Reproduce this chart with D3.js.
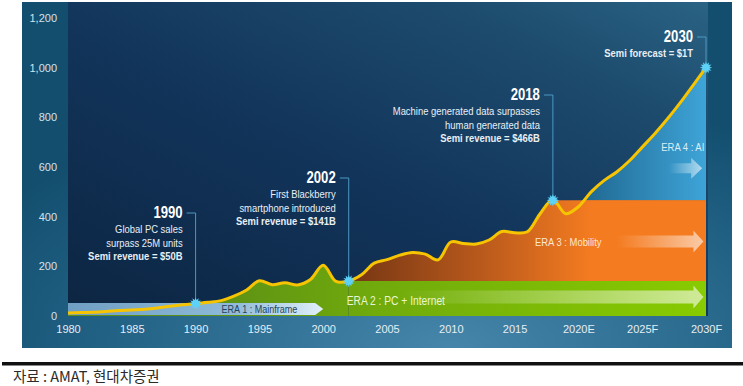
<!DOCTYPE html>
<html>
<head>
<meta charset="utf-8">
<script src="https://cdn.jsdelivr.net/npm/d3@7"></script>
<style>
  body { margin: 0; background: #fff; }
  svg { display: block; font-family: "Liberation Sans", Arial, sans-serif; }
</style>
</head>
<body>
<div id="chart"></div>
<script>
// semiconductor revenue, $B
const years = d3.range(1980, 2031);
const revenue = [
  12, 14, 15, 18, 22, 24, 27, 32, 39, 45,
  50, 55, 62, 80, 105, 142, 126, 134, 125, 147,
  204, 139, 141, 166, 213, 227, 245, 256, 249, 226,
  298, 292, 290, 306, 340, 335, 339, 412, 468, 412,
  440, 500, 545, 580, 625, 680, 735, 795, 860, 930,
  1000
];

const yTicks = [0, 200, 400, 600, 800, 1000, 1200];
const xTicks = [1980, 1985, 1990, 1995, 2000, 2005, 2010, 2015, 2020, 2025, 2030];
const xTickLabels = ["1980", "1985", "1990", "1995", "2000", "2005", "2010", "2015", "2020E", "2025F", "2030F"];

const eraNames = ["ERA 1 : Mainframe", "ERA 2 : PC + Internet", "ERA 3 : Mobility", "ERA 4 : AI"];
const eraStart = [1980, 1980, 2002, 2018];
const eraEnd   = [2000, 2030, 2030, 2030];
const eraFloor = [0, 0, 141, 466];
const eraCeil  = [52, 141, 466, 1200];

const noteYears  = [1990, 2002, 2018, 2030];
const noteValues = [50, 141, 466, 1000];
const noteLines  = [
  ["Global PC sales", "surpass 25M units"],
  ["First Blackberry", "smartphone introduced"],
  ["Machine generated data surpasses", "human generated data"],
  []
];
const noteBold = ["Semi revenue = $50B", "Semi revenue = $141B", "Semi revenue = $466B", "Semi forecast = $1T"];

const source = "자료 : AMAT, 현대차증권";

// ---- layout
const W = 743, H = 386;
const panel = { x0: 22, x1: 732, y0: 2, y1: 348 };
const plot  = { x0: 68, x1: 708, y0: 2, y1: 316 };
const narrow = 0.82;   // the original uses a condensed face

const x = d3.scaleLinear().domain([1980, 2030]).range([68, 706]);
const y = d3.scaleLinear().domain([0, 1200]).range([316, 18]);

const svg = d3.select("#chart").append("svg")
  .attr("width", W).attr("height", H);

const defs = svg.append("defs");

function linGrad(id, x1, y1, x2, y2, stops, user) {
  const g = defs.append("linearGradient").attr("id", id)
    .attr("x1", x1).attr("y1", y1).attr("x2", x2).attr("y2", y2);
  if (user) g.attr("gradientUnits", "userSpaceOnUse");
  stops.forEach(([o, c, op]) => g.append("stop").attr("offset", o)
    .attr("stop-color", c).attr("stop-opacity", op == null ? 1 : op));
}

// backgrounds
const pg = defs.append("radialGradient").attr("id", "panelG")
  .attr("cx", "60%").attr("cy", "100%").attr("r", "75%");
pg.append("stop").attr("offset", 0).attr("stop-color", "#4686ab");
pg.append("stop").attr("offset", 0.6).attr("stop-color", "#236487");
pg.append("stop").attr("offset", 1).attr("stop-color", "#134e6e");

linGrad("plotG", "0%", "100%", "100%", "0%", [
  [0, "#0c2542"], [0.45, "#12345a"], [0.8, "#1d4c6e"], [1, "#2a6384"]
]);
linGrad("greenG", x(1990), 0, x(2030), 0, [
  [0, "#5a8e16"], [0.35, "#70aa0c"], [1, "#88cb00"]
], true);
linGrad("orangeG", x(2003), 0, x(2021), 0, [
  [0, "#7c3914"], [0.5, "#b6581c"], [1, "#f47b20"]
], true);
linGrad("blueG", x(2018), 0, x(2030), 0, [
  [0, "#18597f"], [1, "#3ea4d8"]
], true);
linGrad("era1G", x(1980), 0, x(2000), 0, [
  [0, "#6f9fc3"], [0.65, "#8fbad8"], [1, "#e2f0f9"]
], true);
linGrad("arrowG", "0%", 0, "100%", 0, [
  [0, "#ffffff", 0], [1, "#ffffff", 0.6]
]);

svg.append("rect")
  .attr("x", panel.x0).attr("y", panel.y0)
  .attr("width", panel.x1 - panel.x0).attr("height", panel.y1 - panel.y0)
  .attr("fill", "url(#panelG)");
svg.append("rect")
  .attr("x", plot.x0).attr("y", plot.y0)
  .attr("width", plot.x1 - plot.x0).attr("height", plot.y1 - plot.y0)
  .attr("fill", "url(#plotG)");

// ---- area under the curve
const series = years.map((yr, i) => ({ year: yr, value: revenue[i] }));
const curve = d3.curveCatmullRom.alpha(0.5);

const area = d3.area().curve(curve)
  .x(d => x(d.year)).y0(y(0)).y1(d => y(d.value));
const line = d3.line().curve(curve)
  .x(d => x(d.year)).y(d => y(d.value));

defs.append("clipPath").attr("id", "under")
  .append("path").attr("d", area(series));

const fills = ["url(#era1G)", "url(#greenG)", "url(#orangeG)", "url(#blueG)"];

// each era fills the space under the curve from its start year
const under = svg.append("g").attr("clip-path", "url(#under)");
under.append("rect")
  .attr("x", x(1980)).attr("y", y(1200))
  .attr("width", x(2002) - x(1980)).attr("height", y(0) - y(1200))
  .attr("fill", fills[1]);
[2, 3].forEach(i => {
  under.append("rect")
    .attr("x", x(eraStart[i])).attr("y", y(eraCeil[i]))
    .attr("width", x(eraEnd[i]) - x(eraStart[i]))
    .attr("height", y(eraFloor[i]) - y(eraCeil[i]))
    .attr("fill", fills[i]);
});

// green and orange continue as flat bands to 2030
svg.append("rect")
  .attr("x", x(2002)).attr("y", y(eraCeil[1]))
  .attr("width", x(2030) - x(2002)).attr("height", y(0) - y(eraCeil[1]))
  .attr("fill", fills[1]);
svg.append("rect")
  .attr("x", x(2018)).attr("y", y(eraCeil[2]))
  .attr("width", x(2030) - x(2018)).attr("height", y(eraFloor[2]) - y(eraCeil[2]))
  .attr("fill", fills[2]);

// arrows
function arrow(x0, x1, yc, body, head, hw) {
  const p = d3.path();
  p.moveTo(x0, yc - body / 2);
  p.lineTo(x1 - hw, yc - body / 2);
  p.lineTo(x1 - hw, yc - head / 2);
  p.lineTo(x1, yc);
  p.lineTo(x1 - hw, yc + head / 2);
  p.lineTo(x1 - hw, yc + body / 2);
  p.lineTo(x0, yc + body / 2);
  p.closePath();
  return p.toString();
}

// ERA 1 band
const e1top = y(eraCeil[0]), e1bot = y(0) - 1;
svg.append("path")
  .attr("d", arrow(x(1980), x(2000), (e1top + e1bot) / 2, e1bot - e1top, e1bot - e1top, 8))
  .attr("fill", fills[0]);

svg.append("path")
  .attr("d", arrow(x(2006), x(2029.8), 297, 13, 23, 10))
  .attr("fill", "url(#arrowG)");
svg.append("path")
  .attr("d", arrow(x(2023), x(2029.8), y(300), 12, 22, 10))
  .attr("fill", "url(#arrowG)");
svg.append("path")
  .attr("d", arrow(x(2027.1), x(2029.7), y(595), 10, 21, 11))
  .attr("fill", "url(#arrowG)");

// era labels
const eraLabelX = [x(1995), x(2002) - 2, x(2016.6), x(2026.5)];
const eraLabelY = [(e1top + e1bot) / 2, 301, 242, 147];
const eraColors = ["#24425f", "#eaf6d2", "#ffe6d0", "#dcedf8"];
const eraSizes  = [11, 12.5, 11.5, 11.5];
svg.selectAll("g.era").data(eraNames).join("g")
  .attr("class", "era")
  .attr("transform", (d, i) => `translate(${eraLabelX[i]},${eraLabelY[i]}) scale(${narrow},1)`)
  .append("text")
  .attr("dy", "0.35em")
  .attr("text-anchor", (d, i) => i === 0 ? "middle" : "start")
  .attr("font-size", (d, i) => eraSizes[i])
  .attr("fill", (d, i) => eraColors[i])
  .text(d => d);

// the curve
svg.append("path")
  .attr("d", line(series))
  .attr("fill", "none")
  .attr("stroke", "#f6c400")
  .attr("stroke-width", 3)
  .attr("stroke-linejoin", "round");

// ---- annotations
const titleY = [218, 183, 100, 42];
const ann = svg.append("g");
noteYears.forEach((yr, i) => {
  const px = x(yr), py = y(noteValues[i]);
  const tx = px - 13, ty = titleY[i];
  ann.append("path")
    .attr("d", `M${px - 9},${ty - 5}H${px}V${py}`)
    .attr("fill", "none").attr("stroke", "#4c98c2").attr("stroke-width", 1);
  const g = ann.append("g").attr("transform", `translate(${tx},${ty}) scale(${narrow},1)`);
  g.append("text")
    .attr("text-anchor", "end").attr("font-size", 16).attr("font-weight", "bold")
    .attr("fill", "#ffffff").text(yr);
  const lines = noteLines[i].concat([noteBold[i]]);
  lines.forEach((s, j) => {
    g.append("text")
      .attr("y", 15.5 + j * 13.5)
      .attr("text-anchor", "end").attr("font-size", 11.5)
      .attr("font-weight", j === lines.length - 1 ? "bold" : "normal")
      .attr("fill", "#e8eff5").text(s);
  });
  // star burst
  const pts = d3.range(24).map(k => {
    const a = k * Math.PI / 12, r = k % 2 ? 3.6 : 6.2;
    return [px + r * Math.sin(a), py - r * Math.cos(a)];
  });
  ann.append("path").attr("d", "M" + pts.join("L") + "Z").attr("fill", "#5ed2f6");
});

// ---- axes
const yAxis = svg.append("g")
  .attr("transform", `translate(${plot.x0 - 8},0)`)
  .call(d3.axisLeft(y).tickValues(yTicks).tickSize(0).tickFormat(d3.format(",")));
yAxis.select(".domain").remove();
yAxis.selectAll("text").attr("fill", "#d6e2ea").attr("font-size", 11)
  .attr("font-family", null);

const xAxis = svg.append("g")
  .attr("transform", `translate(0,${plot.y1 + 6})`)
  .call(d3.axisBottom(x).tickValues(xTicks).tickSize(0)
    .tickFormat((d, i) => xTickLabels[i]));
xAxis.select(".domain").remove();
xAxis.selectAll("text").attr("fill", "#e6eef4").attr("font-size", 11)
  .attr("font-family", null);

// ---- source
svg.append("rect").attr("x", 2).attr("y", 362).attr("width", W - 2).attr("height", 3.5)
  .attr("fill", "#111");
svg.append("text")
  .attr("x", 13).attr("y", 382)
  .attr("font-family", "'Noto Sans CJK KR', 'Noto Sans', sans-serif")
  .attr("font-size", 14.5).attr("fill", "#2a2a2a")
  .text(source);
</script>
</body>
</html>
